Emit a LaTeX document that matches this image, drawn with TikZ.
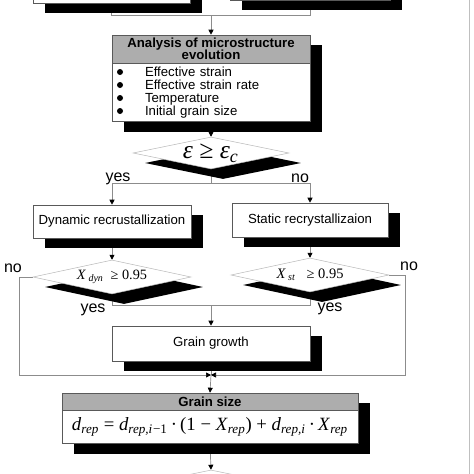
\documentclass[tikz,border=0pt]{standalone}
\usepackage{fontspec}
\setmainfont{Liberation Sans}
\newfontfamily\tms{Liberation Serif}
\usepackage{graphicx}
\usetikzlibrary{shapes.geometric,shadows,arrows.meta,calc}
\pgfdeclarelayer{bg}
\pgfdeclarelayer{sh}
\pgfsetlayers{bg,sh,main}
\newcommand{\vsub}[2]{\textit{#1}\textsubscript{\textit{#2}}}
\newcommand{\bul}{\hspace*{28pt}}
\tikzset{
  conn/.style={draw=black!45, line width=0.7pt},
  arr/.style={conn, -{Triangle[length=5pt,width=5pt,color=black]}},
  blackshadow/.style={drop shadow={shadow xshift=12pt, shadow yshift=-10pt, fill=black, opacity=1}},
  proc/.style={rectangle, draw=black!65, line width=0.6pt, fill=white, inner sep=0pt,
    font=\fontsize{13.2}{15}\selectfont},
  hdr/.style={rectangle, draw=black!65, line width=0.6pt, fill=black!32, inner sep=0pt,
    align=center, font=\bfseries\fontsize{13.2}{12.5}\selectfont},
  dec/.style={diamond, aspect=4.9, draw=black!28, line width=0.5pt, fill=white, inner sep=0pt, blackshadow},
  lab/.style={inner sep=0pt, font=\fontsize{16}{16}\selectfont},
  bulletdot/.style={fill=black},
}
\begin{document}
\begin{tikzpicture}[x=1pt, y=1pt]
\useasboundingbox (0,0) rectangle (474,-474);
\begin{pgfonlayer}{bg}
\fill[white] (0,0) rectangle (474,-474);
\end{pgfonlayer}
\draw[black!25, line width=0.8pt] (469,0) -- (469,-474);

% top boxes (cut off)
\node[proc, blackshadow, minimum width=157, minimum height=40] (tl) at (111.5,17) {};
\node[proc, blackshadow, left color=black!20, right color=black!85, minimum width=160, minimum height=40] (tr) at (310,20) {};

% analysis box
\node[hdr, minimum width=198, minimum height=28] (anah) at (211,-49) {Analysis of microstructure\\evolution};
\node[proc, anchor=north, minimum width=198, minimum height=58, inner xsep=5pt, text width=188pt, align=left,
  font=\fontsize{13.2}{13}\selectfont] (anab) at (anah.south)
  {\bul Effective strain\\
   \bul Effective strain rate\\
   \bul Temperature\\
   \bul Initial grain size};
\foreach \yy in {72,85,98,111} { \fill[bulletdot] (120,-\yy) circle (3); }

% first decision
\node[dec, minimum width=156, minimum height=32] (d1) at (211,-153)
  {\raisebox{4pt}{\resizebox{56pt}{!}{\tms\itshape ε ≥ ε\textsubscript{c}}}};

% recrystallization boxes
\node[proc, blackshadow, minimum width=158, minimum height=33] (dyn) at (112,-221.5) {Dynamic recrustallization};
\node[proc, blackshadow, minimum width=156, minimum height=34] (sta) at (310,-220) {Static recrystallizaion};

% second decisions
\node[dec, minimum width=158, minimum height=34] (d2) at (112,-277)
  {\raisebox{2pt}{\resizebox{70pt}{!}{\tms\textit{X}\,\textsubscript{\textit{dyn}}\enspace ≥ 0.95}}};
\node[dec, minimum width=158, minimum height=34] (d3) at (310,-275)
  {\raisebox{2pt}{\resizebox{67pt}{!}{\tms\textit{X}\,\textsubscript{\textit{st}}\enspace\ ≥ 0.95}}};

% grain growth
\node[proc, blackshadow, minimum width=198, minimum height=35] (gg) at (211,-343.5) {Grain growth};

% grain size
\node[hdr, minimum width=296, minimum height=17] (gsh) at (210,-401.5) {Grain size};
\node[proc, anchor=north, minimum width=296, minimum height=33] (gsb) at (gsh.south)
  {\resizebox{276pt}{!}{\tms\vsub{d}{rep} = \vsub{d}{rep,i}\textsubscript{−1}\,·\,(1 − \vsub{X}{rep}) + \vsub{d}{rep,i}\,·\,\vsub{X}{rep}}};

% next decision (cut off)
\node[dec, minimum width=156, minimum height=32] (d4) at (211,-486) {};

% shadows of the two-part boxes
\begin{pgfonlayer}{sh}
  \fill[black] ([shift={(12,-10)}]anah.north west) rectangle ([shift={(12,-10)}]anab.south east);
  \fill[black] ([shift={(12,-10)}]gsh.north west) rectangle ([shift={(12,-10)}]gsb.south east);
\end{pgfonlayer}

% junction coordinates
\coordinate (j1) at (211,-15);
\coordinate (j2) at (211,-183);
\coordinate (j3) at (211,-305);
\coordinate (m) at (211,-375);

\begin{pgfonlayer}{bg}
  \draw[conn] (tl.south) |- (j1);
  \draw[conn] (tr.south) |- (j1);
  \draw[arr] (j1) -- (anah.north);
  \draw[arr] (anab.south) -- (d1.north);
  \draw[conn] (d1.south) -- (j2);
  \draw[arr] (j2) -| (dyn.north);
  \draw[arr] (j2) -| (sta.north);
  \draw[arr] (dyn.south) -- (d2.north);
  \draw[arr] (sta.south) -- (d3.north);
  \draw[conn] (d2.south) |- (j3);
  \draw[conn] (d3.south) |- (j3);
  \draw[arr] (j3) -- (gg.north);
  \draw[conn] (gg.south) -- (m);
  \draw[arr] (d2.west) -- ++(-13,0) |- (m);
  \draw[arr] (d3.east) -- ++(16,0) |- (m);
  \draw[arr] (m) -- (gsh.north);
  \draw[arr] (gsb.south) -- (d4.north);
\end{pgfonlayer}

% labels
\node[lab] at (118,-179) {yes};
\node[lab] at (300,-178) {no};
\node[lab] at (13,-268) {no};
\node[lab] at (409,-266) {no};
\node[lab] at (93,-310) {yes};
\node[lab] at (330,-309) {yes};
\end{tikzpicture}
\end{document}
